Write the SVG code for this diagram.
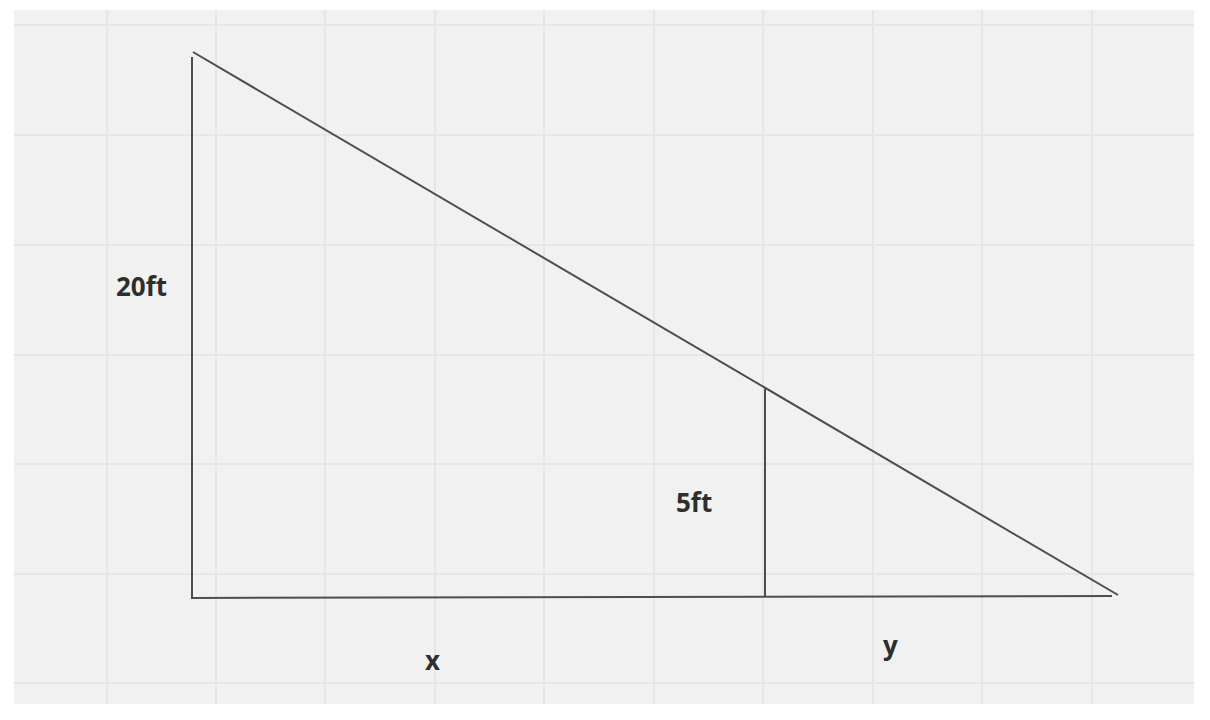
<svg xmlns="http://www.w3.org/2000/svg" width="1210" height="720" viewBox="0 0 1210 720">
<style>
.grid line{stroke:#e6e6e6;stroke-width:2}
.edge{stroke:#4d4d4d;stroke-width:2;fill:none;stroke-linecap:butt}
.lbl{font-family:"Open Sans","Liberation Sans",sans-serif;font-weight:700;font-size:26px;fill:#2e2e2e}
</style>
<rect width="1210" height="720" fill="#ffffff"/>
<rect x="14" y="10" width="1180" height="694" fill="#f1f1f1"/>
<g class="grid" id="grid">
<line x1="107" y1="10" x2="107" y2="704"/>
<line x1="216" y1="10" x2="216" y2="704"/>
<line x1="325" y1="10" x2="325" y2="704"/>
<line x1="435" y1="10" x2="435" y2="704"/>
<line x1="544" y1="10" x2="544" y2="704"/>
<line x1="654" y1="10" x2="654" y2="704"/>
<line x1="763" y1="10" x2="763" y2="704"/>
<line x1="873" y1="10" x2="873" y2="704"/>
<line x1="982" y1="10" x2="982" y2="704"/>
<line x1="1092" y1="10" x2="1092" y2="704"/>
<line x1="14" y1="25" x2="1194" y2="25"/>
<line x1="14" y1="135" x2="1194" y2="135"/>
<line x1="14" y1="245" x2="1194" y2="245"/>
<line x1="14" y1="355" x2="1194" y2="355"/>
<line x1="14" y1="464" x2="1194" y2="464"/>
<line x1="14" y1="574" x2="1194" y2="574"/>
<line x1="14" y1="683" x2="1194" y2="683"/>
</g>
<g id="connectors">
<line class="edge" x1="192" y1="57" x2="192" y2="598"/>
<line class="edge" x1="191" y1="598" x2="1112" y2="596"/>
<line class="edge" x1="193" y1="52" x2="1118" y2="595"/>
<line class="edge" x1="765" y1="389" x2="765" y2="597"/>
</g>
<g id="label-20ft"><text class="lbl" x="116" y="296">20ft</text></g>
<g id="label-5ft"><text class="lbl" x="676" y="512">5ft</text></g>
<g id="label-x"><text class="lbl" x="425" y="670">x</text></g>
<g id="label-y"><text class="lbl" x="883" y="655">y</text></g>
</svg>
